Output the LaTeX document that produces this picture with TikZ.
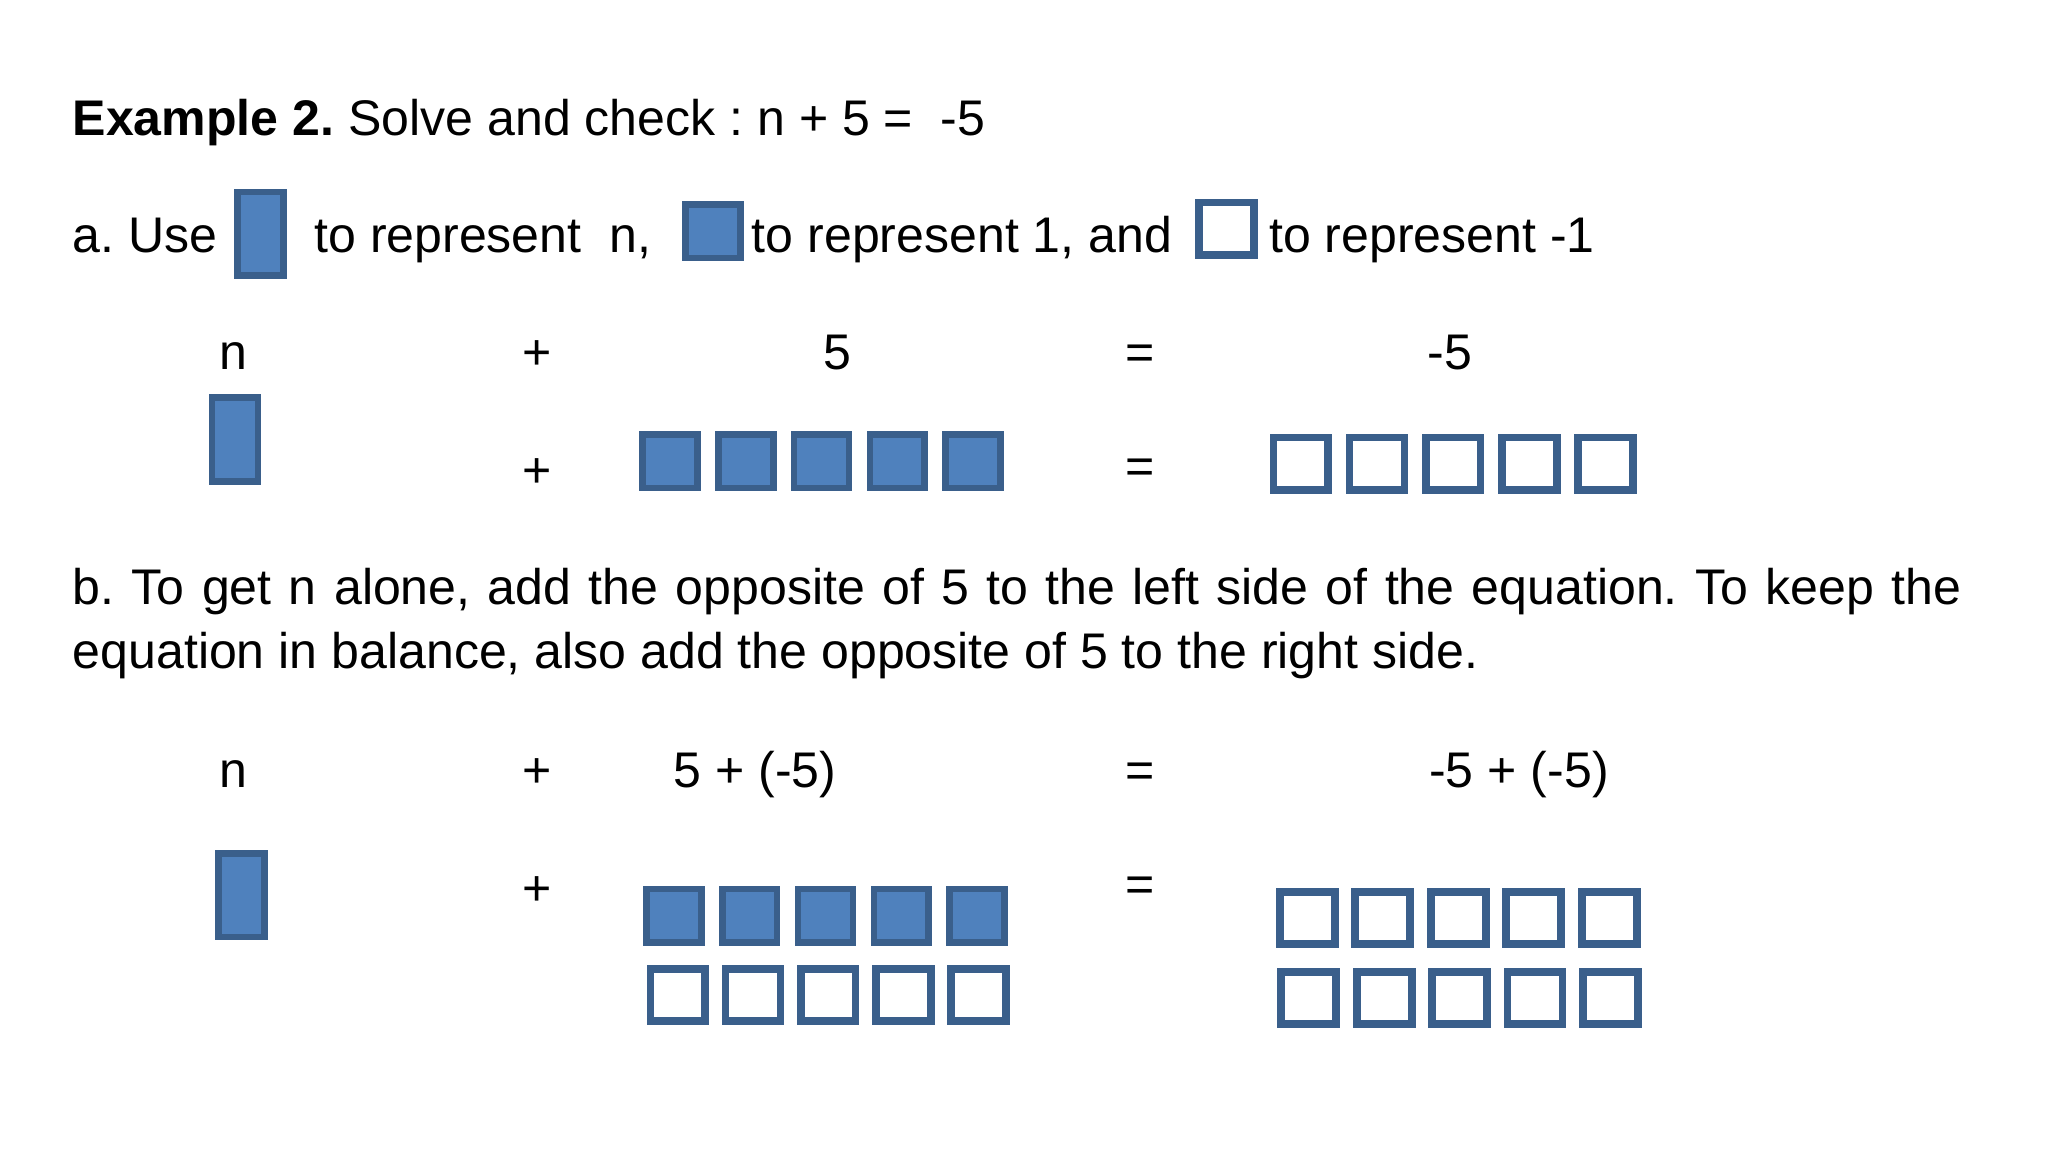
\documentclass[tikz,border=0pt]{standalone}
\usepackage{fontspec}
\setmainfont{Liberation Sans}
\frenchspacing

\definecolor{tileedge}{HTML}{3A5F8B}
\definecolor{tilefill}{HTML}{4F81BD}

\tikzset{
  ntile/.style={draw=tileedge, fill=tilefill, line width=0.05cm,
    minimum width=0.35cm, minimum height=0.64cm, inner sep=0pt},
  postile/.style={draw=tileedge, fill=tilefill, line width=0.05cm,
    minimum width=0.42cm, minimum height=0.41cm, inner sep=0pt},
  negtile/.style={draw=tileedge, fill=white, line width=0.06cm,
    minimum width=0.42cm, minimum height=0.40cm, inner sep=0pt},
  txt/.style={anchor=base west, inner sep=0pt},
  sym/.style={anchor=base, inner sep=0pt}
}

\begin{document}
\begin{tikzpicture}[x=0.01cm, y=-0.01cm, font=\fontsize{10.9}{13}\selectfont]
  \useasboundingbox (0,0) rectangle (1568,882);
  \fill [white] (0,0) rectangle (1568,882);

  % heading
  \node [txt] (title) at (55,104) {\textbf{Example 2.} Solve and check : n + 5 =\ \ -5};

  % part a: the key
  \node [txt] (use) at (55,193) {a. Use};
  \node [ntile] (keyn) at (199.5,179) {};
  \node [txt] (repn) at (240,193) {to represent \ n,};
  \node [postile] (keyp) at (546,177) {};
  \node [txt] (repp) at (575,193) {to represent 1, and};
  \node [negtile] (keym) at (939,175) {};
  \node [txt] (repm) at (971,193) {to represent -1};

  % first equation
  \node [sym] (an)  at (179,283) {n};
  \node [sym] (aplus) at (411,283) {+};
  \node [sym] (afive) at (641,283) {5};
  \node [sym] (aeq) at (873,283) {=};
  \node [sym] (am) at (1110,283) {-5};

  \node [ntile] (tn) at (180,336.5) {};
  \node [sym] (tplus) at (411,373) {+};
  \foreach \i in {0,...,4}
    \node [postile] (tp\i) at (513+58*\i,353) {};
  \node [sym] (teq) at (873,370) {=};
  \foreach \i in {0,...,4}
    \node [negtile] (tm\i) at (996+58.25*\i,355) {};

  % part b (first line is justified)
  \node [txt] (bline1) at (55,463) {\makebox[14.45cm][s]{b. To get n alone, add the opposite of 5 to the left side of the equation. To keep the}};
  \node [txt] (bline2) at (55,512) {equation in balance, also add the opposite of 5 to the right side.};

  % second equation
  \node [sym] (bn) at (179,603) {n};
  \node [sym] (bplus) at (411,603) {+};
  \node [sym] (bsum) at (578,603) {5 + (-5)};
  \node [sym] (beq) at (873,603) {=};
  \node [sym] (bm) at (1163,603) {-5 + (-5)};

  \node [ntile] (un) at (185,685.5) {};
  \node [sym] (uplus) at (411,693) {+};
  \foreach \i in {0,...,4} {
    \node [postile] (up\i) at (516+58*\i,701) {};
    \node [negtile] (um\i) at (519+57.5*\i,762) {};
  }
  \node [sym] (ueq) at (873,690) {=};
  \foreach \i in {0,...,4} {
    \node [negtile] (vm\i) at (1001+57.75*\i,703) {};
    \node [negtile] (wm\i) at (1002+57.75*\i,764) {};
  }
\end{tikzpicture}
\end{document}
